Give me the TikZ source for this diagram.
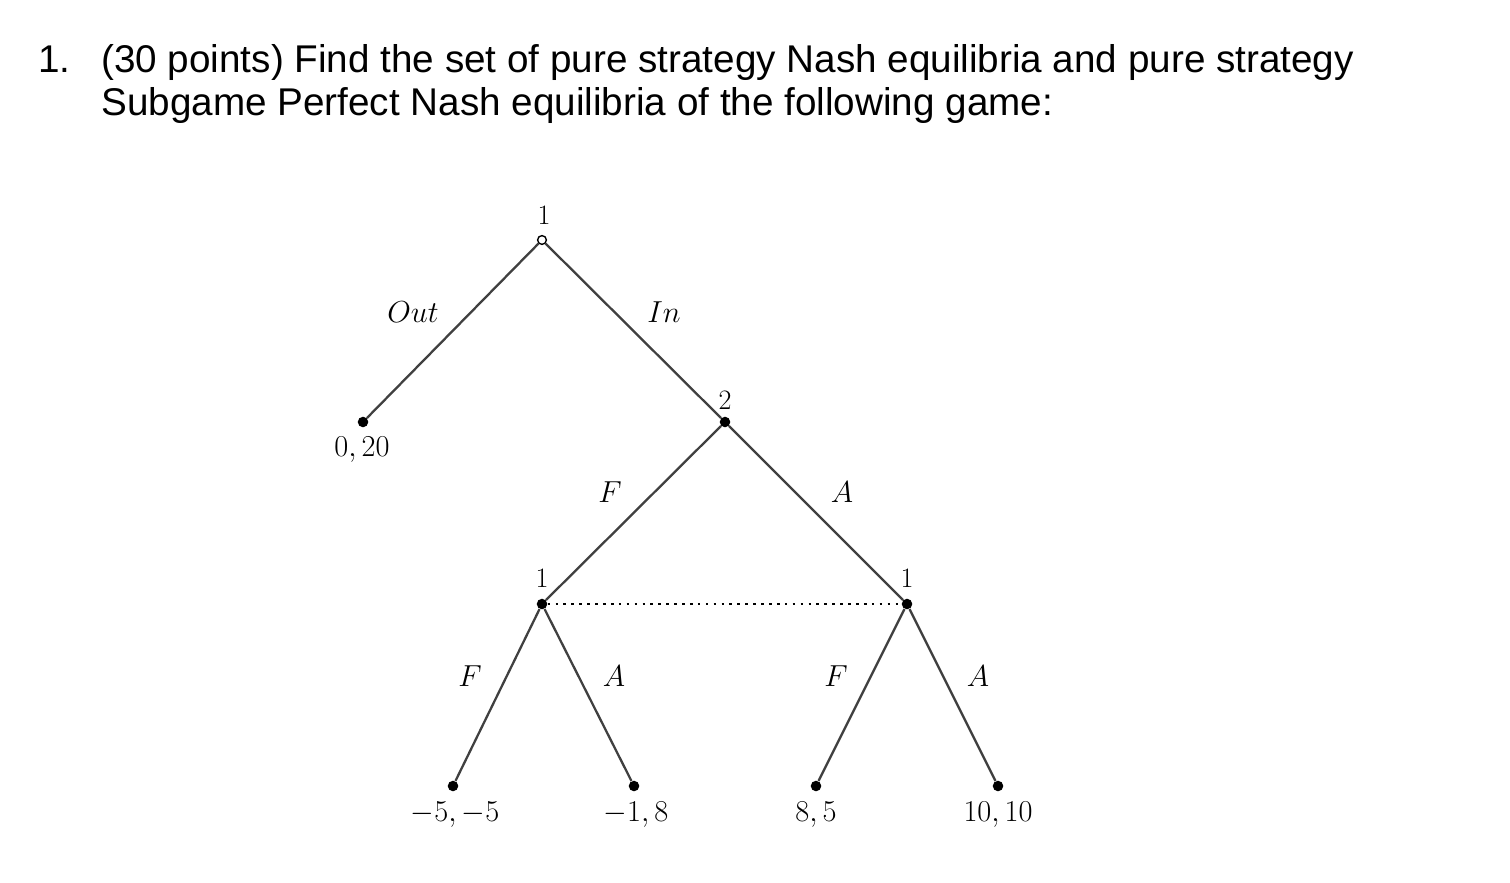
\documentclass[tikz,border=0pt]{standalone}
\usepackage{fontspec}
\newfontfamily\arial{Liberation Sans}
\begin{document}
\begin{tikzpicture}[x=0.02cm,y=-0.02cm,
  dot/.style={circle,fill=black,inner sep=0pt,minimum size=6pt},
  hollow/.style={circle,draw=black,fill=white,inner sep=0pt,minimum size=5pt,line width=0.8pt},
  edge/.style={draw=black!75,line width=1.3pt},
  lbl/.style={font=\fontsize{16}{18}\selectfont},
  hdr/.style={anchor=base west,font=\arial\fontsize{22}{26}\selectfont,inner sep=0pt}]
\useasboundingbox (0,0) rectangle (1510,882);
\node[hdr] (h1) at (38,72) {1.};
\node[hdr] (h2) at (101,72) {(30 points) Find the set of pure strategy Nash equilibria and pure strategy};
\node[hdr] (h3) at (101,115) {Subgame Perfect Nash equilibria of the following game:};
\node[hollow] (r) at (542,240) {};
\node[dot] (o) at (363,422) {};
\node[dot] (n2) at (725,422) {};
\node[dot] (a) at (542,604) {};
\node[dot] (b) at (907,604) {};
\node[dot] (l1) at (453,786) {};
\node[dot] (l2) at (634,786) {};
\node[dot] (l3) at (816,786) {};
\node[dot] (l4) at (998,786) {};
\draw[edge] (r) -- (o);
\draw[edge] (r) -- (n2);
\draw[edge] (n2) -- (a);
\draw[edge] (n2) -- (b);
\draw[edge] (a) -- (l1);
\draw[edge] (a) -- (l2);
\draw[edge] (b) -- (l3);
\draw[edge] (b) -- (l4);
\draw[line width=1pt,dash pattern=on 1.5pt off 3pt] (a) -- (b);
\node[lbl] (t1) at (544,215) {1};
\node[lbl] (t2) at (725,400) {2};
\node[lbl] (t3) at (542,578) {1};
\node[lbl] (t4) at (907,578) {1};
\node[lbl] (p0) at (362,450) {$0,20$};
\node[lbl] (p1) at (455,815) {$-5,-5$};
\node[lbl] (p2) at (636,815) {$-1,8$};
\node[lbl] (p3) at (816,815) {$8,5$};
\node[lbl] (p4) at (998,815) {$10,10$};
\node[lbl] (e1) at (413,312) {$Out$};
\node[lbl] (e2) at (664,312) {$In$};
\node[lbl] (e3) at (610,492) {$F$};
\node[lbl] (e4) at (842,492) {$A$};
\node[lbl] (e5) at (470,676) {$F$};
\node[lbl] (e6) at (614,676) {$A$};
\node[lbl] (e7) at (836,676) {$F$};
\node[lbl] (e8) at (978,676) {$A$};
\end{tikzpicture}
\end{document}
